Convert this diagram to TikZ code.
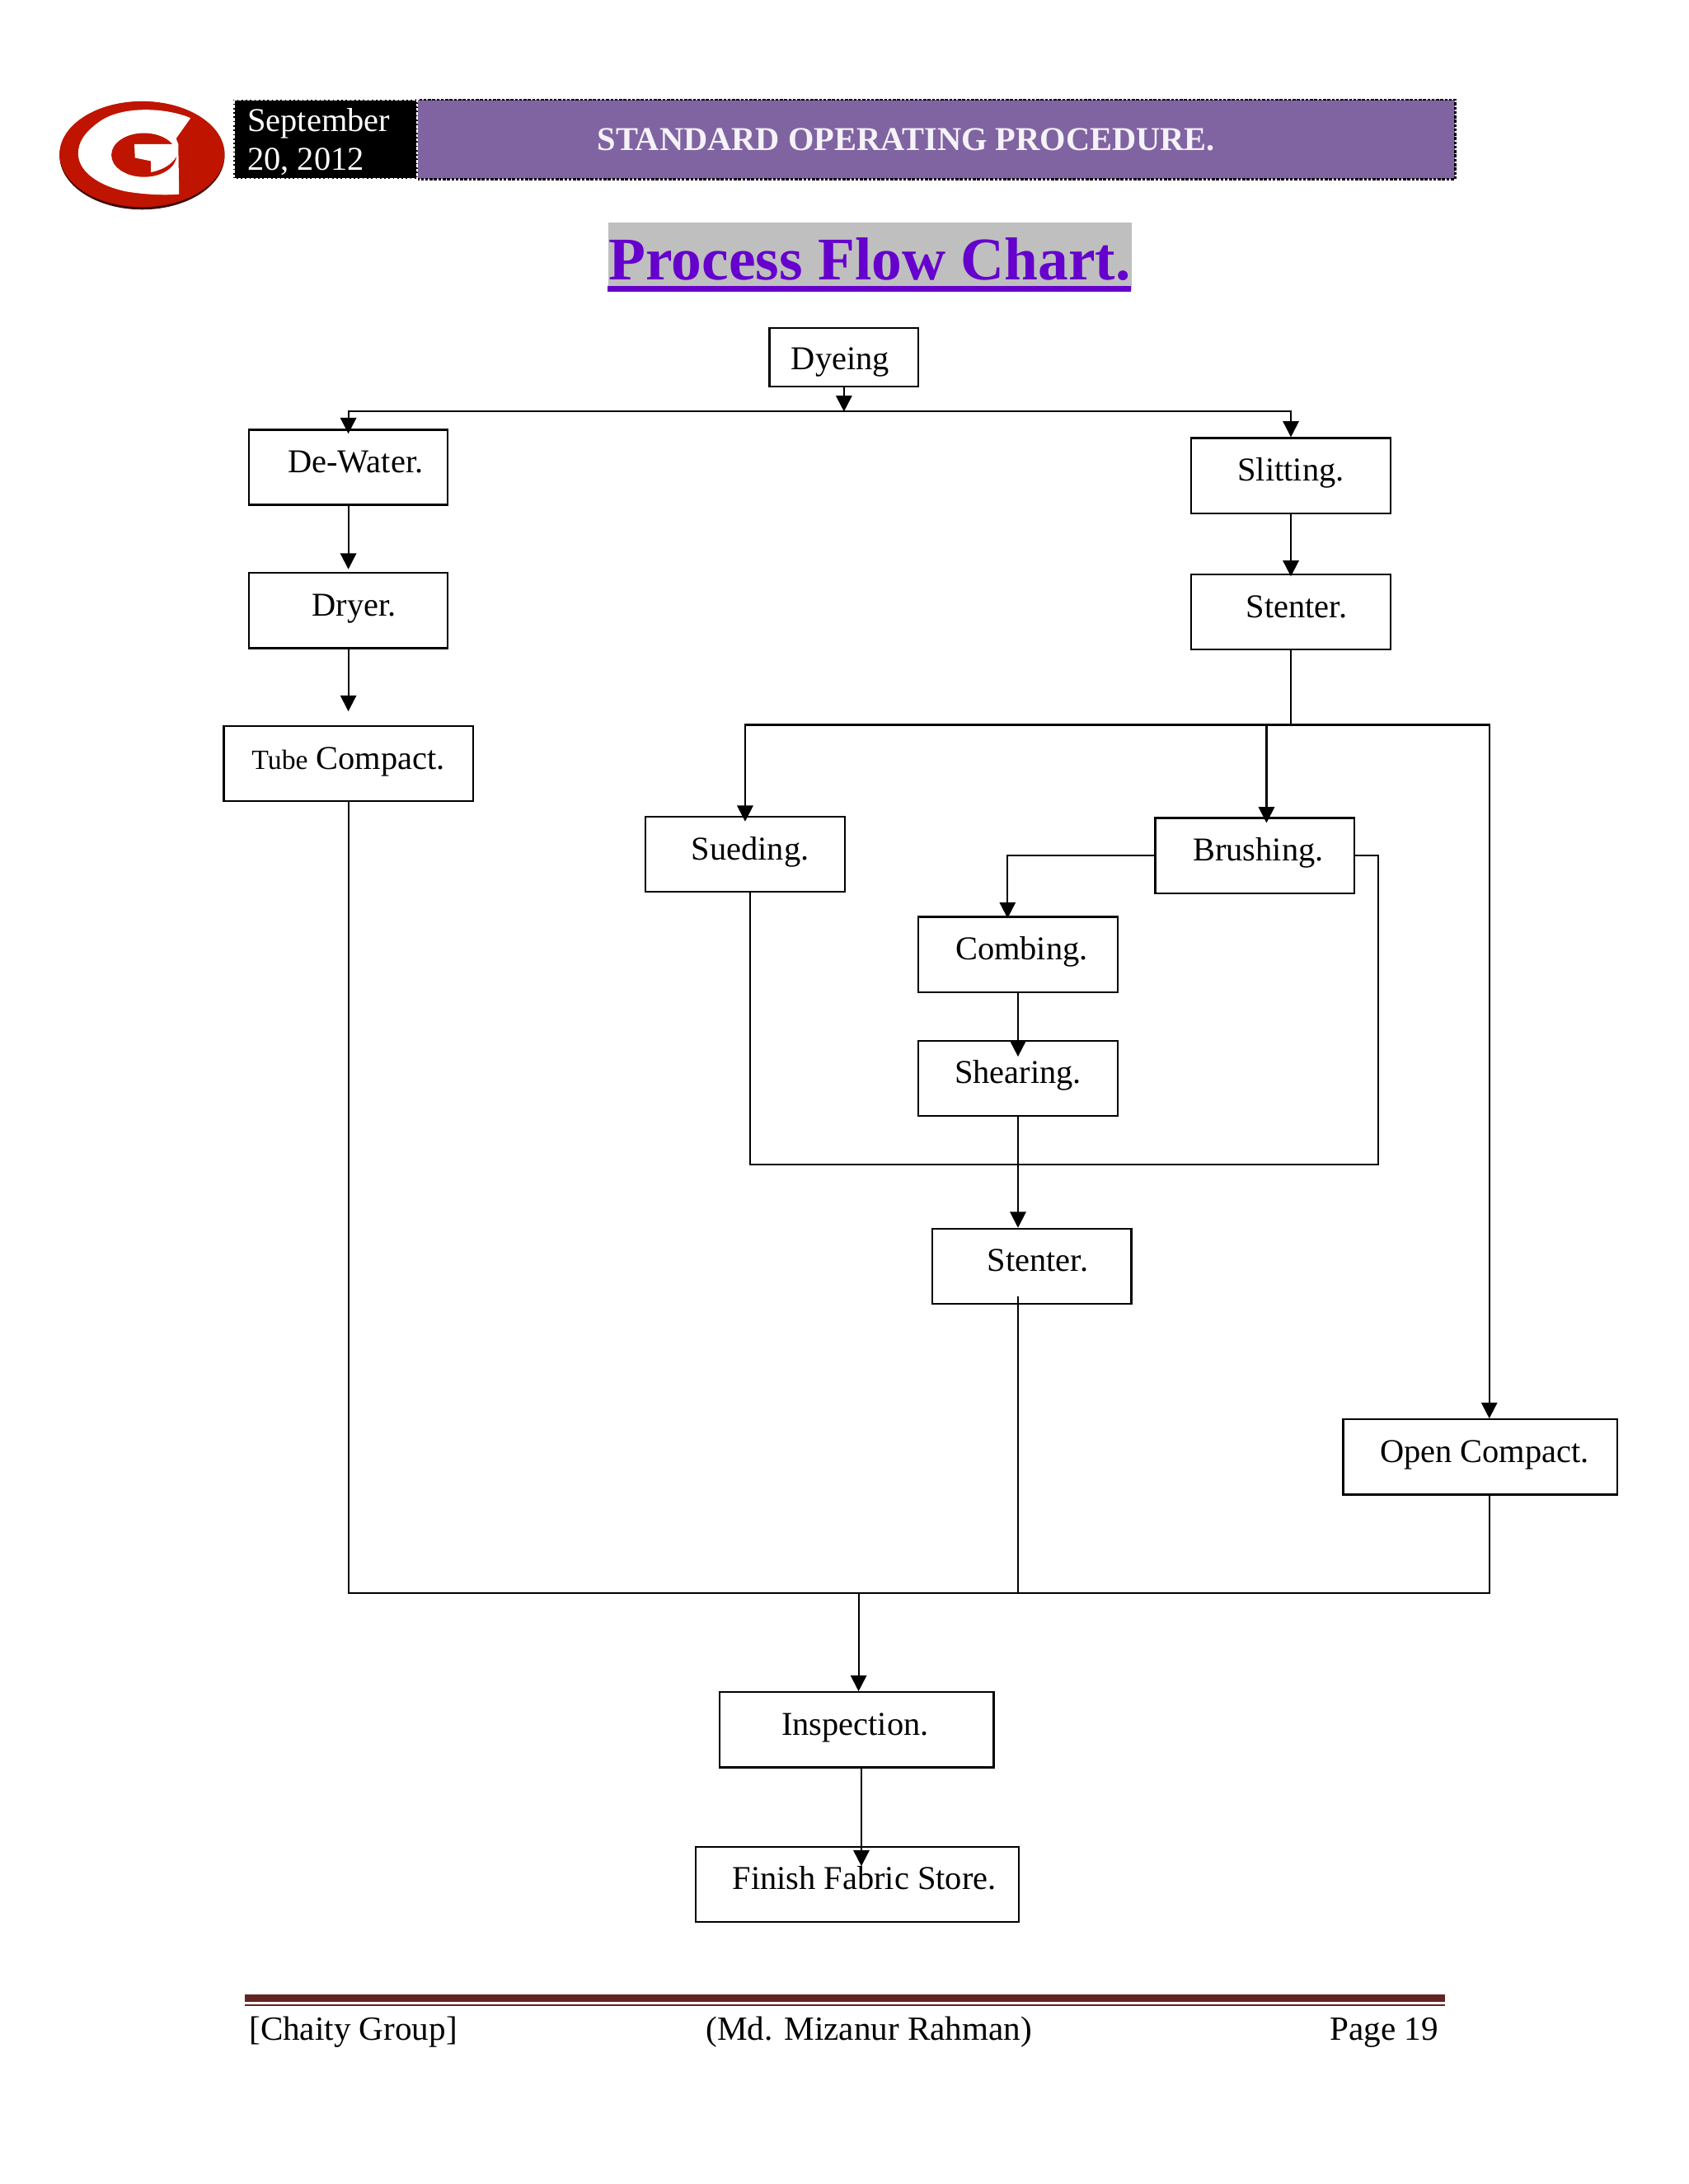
\documentclass[tikz,border=0pt]{standalone}
\usepackage{fontspec}
\setmainfont{Liberation Serif}
\usetikzlibrary{arrows.meta, positioning}

\definecolor{logored}{HTML}{BF1400}
\definecolor{logorim}{HTML}{3A0806}
\definecolor{headpurple}{HTML}{8064A2}
\definecolor{titleblue}{HTML}{6600CC}
\definecolor{titlegrey}{HTML}{BFBFBF}
\definecolor{rulered}{HTML}{622423}

\begin{document}
\begin{tikzpicture}[
                x=0.01689cm, y=-0.01689cm,
                box/.style={draw, line width=0.65pt, inner sep=0pt, text height=8pt, text depth=4.3pt,
                    font=\fontsize{11.5}{14}\selectfont, minimum width=68.7pt, minimum height=25.95pt},
                link/.style={line width=0.6pt},
                edge/.style={link, -{Stealth[length=5.5pt, width=5.5pt, inset=0pt]}},
                foot/.style={anchor=base, inner sep=0pt, font=\fontsize{11.7}{14}\selectfont}
            ]
                \useasboundingbox (-0.7, -0.7) rectangle (1211.9, 1568.3);

                % logo
                \begin{scope}[shift={(34.8, 64.4)}, x=0.003333cm, y=-0.003333cm]
                    \fill[logorim] (338, 237) ellipse [x radius=301, y radius=197];
                    \fill[logored] (338, 232) ellipse [x radius=301, y radius=193];
                    \fill[white] (515, 100) .. controls (420, 60) and (260, 55) .. (180, 115)
                        .. controls (125, 155) and (105, 190) .. (105, 230)
                        .. controls (105, 290) and (170, 345) .. (280, 368)
                        .. controls (350, 380) and (420, 382) .. (473, 378)
                        -- (470, 195) -- (462, 175) -- cycle;
                    \fill[logored] (345, 235) ellipse [x radius=119, y radius=80];
                    \fill[white] (310, 195) -- (470, 195) -- (466, 235)
                        .. controls (450, 270) and (410, 290) .. (370, 298)
                        -- (370, 257) -- (312, 245) -- cycle;
                \end{scope}

                % header bar
                \node[draw, fill=headpurple, dash pattern=on 1pt off 0.5pt, line width=0.7pt, minimum width=358.5pt, minimum height=27.4pt, inner sep=0pt,
                    text=white!92!headpurple, font=\bfseries\fontsize{11.5}{14}\selectfont] (headbar) at (671.5, 99.5) {\hspace*{-20.5pt}STANDARD OPERATING PROCEDURE.};
                \node[draw=white, fill=black, dash pattern=on 1pt off 0.5pt, line width=0.7pt, minimum width=63.4pt, minimum height=27.4pt, inner sep=0pt] (headdate) at (233, 99.5) {};
                \node[right=5pt of headdate.west, anchor=west, inner sep=0pt, yshift=-0.7pt, align=left, text=white, font=\fontsize{11.5}{13.4}\selectfont] (datetext) {September\\20, 2012};

                % title
                \node[fill=titlegrey, inner sep=0pt, text height=20pt, text depth=3.4pt, minimum width=180.7pt, text=titleblue,
                    font=\bfseries\fontsize{20.9}{24}\selectfont, anchor=base] (title) at (624, 200.5) {Process Flow Chart.};
                \fill[titleblue] (title.south west) ++(0, -3.5) rectangle ++(376, 4.5);

                % boxes
                \node[box, minimum width=51.4pt, minimum height=20.2pt, text height=10pt, text depth=1.4pt] (dyeing) at (605.5, 256) {\hspace*{-2.5pt}Dyeing};
                \node[box] (dewater) at (249.5, 335) {\hspace*{5pt}De-Water.};
                \node[box] (dryer) at (249.5, 438) {\hspace*{4pt}Dryer.};
                \node[box, minimum width=86pt] (tubecompact) at (249.5, 548) {{\fontsize{9.6}{12}\selectfont Tube} Compact.};
                \node[box] (slitting) at (926.5, 341) {Slitting.};
                \node[box] (stenterone) at (926.5, 439) {\hspace*{4pt}Stenter.};
                \node[box] (sueding) at (534.5, 613) {\hspace*{3.5pt}Sueding.};
                \node[box] (brushing) at (900.5, 614) {\hspace*{2.5pt}Brushing.};
                \node[box] (combing) at (730.5, 685) {\hspace*{2.5pt}Combing.};
                \node[box] (shearing) at (730.5, 774) {Shearing.};
                \node[box] (stentertwo) at (740.5, 909) {\hspace*{4pt}Stenter.};
                \node[box, minimum width=94.65pt] (opencompact) at (1062.5, 1046) {\hspace*{3pt}Open Compact.};
                \node[box, minimum width=94.65pt] (inspection) at (614.5, 1242) {\hspace*{-1pt}Inspection.};
                \node[box, minimum width=111.5pt] (finishstore) at (615, 1353) {\hspace*{5pt}Finish Fabric Store.};

                % junctions
                \coordinate (topbus) at (605.5, 295);
                \coordinate (splitbus) at (926.5, 520);
                \coordinate (splitb) at (909, 520);
                \coordinate (splitr) at (1069, 520);
                \coordinate (turnb) at (723, 614);
                \coordinate (loopl) at (538, 836);
                \coordinate (loopr) at (989, 836);
                \coordinate (botbus) at (616, 1144);
                \coordinate (botmid) at (730.5, 1144);
                \coordinate (botr) at (1069, 1144);
                \coordinate (storex) at (618, 1326);

                % left branch
                \draw[edge] (dyeing.south) -- (topbus);
                \draw[edge, shorten >=-1.7pt] (topbus) -| (dewater.north);
                \draw[edge] (topbus) -| (slitting.north);
                \draw[edge, shorten >=1pt] (dewater) -- (dryer);
                \draw[edge, shorten >=4.8pt] (dryer) -- (tubecompact);

                % right branch
                \draw[edge, shorten >=-1pt] (slitting) -- (stenterone);
                \draw[link] (stenterone) -- (splitbus);
                \draw[edge, shorten >=-2pt] (splitbus) -| (sueding.north);
                \draw[edge, shorten >=-2pt] (splitb) -- (brushing.north -| splitb);
                \draw[edge] (splitbus) -- (splitr) -- (opencompact.north -| splitr);

                % middle loop
                \draw[edge, shorten >=-0.8pt] (brushing.west) -- (turnb) -- (combing.north -| turnb);
                \draw[edge, shorten >=-5.8pt] (combing) -- (shearing);
                \draw[link] (sueding.south -| loopl) -- (loopl) -- (loopr) |- (brushing.east);
                \draw[edge] (shearing.south) -- (stentertwo.north -| shearing.south);

                % bottom
                \draw[link] (tubecompact.south) |- (botbus);
                \draw[link] (botbus) -- (botr) -- (opencompact.south -| botr);
                \draw[link, shorten >=-2.9pt] (botmid) -- (stentertwo.south -| botmid);
                \draw[edge] (botbus) -- (inspection.north -| botbus);
                \draw[edge, shorten >=-6.7pt] (inspection.south -| storex) -- (storex);

                % footer
                \fill[rulered] (175, 1432) rectangle (1037, 1437.6);
                \fill[rulered] (175, 1439.3) rectangle (1037, 1440.5);
                \node[foot] (footleft) at (253, 1465) {[Chaity Group]};
                \node[foot] (footmid) at (623.5, 1465) {(Md. Mizanur Rahman)};
                \node[foot] (footright) at (993.5, 1465) {Page 19};
            \end{tikzpicture}
\end{document}
